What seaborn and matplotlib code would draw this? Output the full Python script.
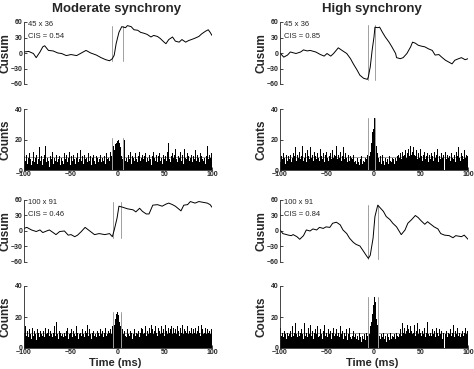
import matplotlib

matplotlib.use("Agg")
import matplotlib.pyplot as plt
import pandas as pd
import seaborn as sns

sns.set_theme(style="ticks")
plt.rcParams["font.family"] = ["Liberation Sans", "DejaVu Sans"]

# --- Cusum traces (time in ms, cusum value) ---
mod_t1 = [-100, -95, -90, -87, -83, -80, -78, -74, -69, -64, -60, -55, -50, -44, -39, -34, -29,
          -23, -18, -13, -9, -6, -4, -2, 1, 4, 8, 10, 14, 17, 21, 24, 28, 31, 35, 38, 42, 45,
          49, 51, 54, 58, 61, 65, 68, 72, 75, 81, 86, 89, 93, 96, 98, 100]
mod_c1 = [2, 3, -1, -9, 2, 12, 14, 5, 4, 0, -1, -5, -3, -5, 0, 5, 0,
          -4, -9, -13, -15, -11, -4, 18, 40, 51, 49, 53, 51, 45, 44, 40, 38, 36, 31, 34, 32, 28,
          21, 18, 26, 31, 23, 21, 26, 21, 24, 28, 32, 37, 42, 45, 40, 34]

high_t1 = [-100, -96, -92, -89, -83, -78, -75, -71, -68, -62, -57, -53, -50, -46, -43, -38, -34,
           -29, -25, -22, -18, -15, -11, -7, -6, -4, -2, 0, 1, 4, 6, 9, 12, 16, 19, 23, 24, 28,
           31, 35, 39, 41, 44, 47, 51, 54, 58, 62, 65, 69, 72, 76, 79, 83, 86, 90, 93, 97, 100]
high_c1 = [0, -8, -4, 2, -1, 2, 6, 4, 5, 2, -3, -6, -1, -6, -1, 10, 5,
           -1, -11, -21, -33, -43, -49, -51, -46, -27, 5, 31, 50, 49, 50, 40, 31, 21, 12, -1, -9, -11,
           -9, -1, 12, 21, 19, 15, 13, 12, 8, 5, -4, -3, -8, -14, -17, -21, -14, -11, -9, -13, -11]

mod_t2 = [-100, -97, -92, -87, -83, -80, -76, -73, -69, -66, -62, -57, -53, -50, -46, -43, -39,
          -35, -30, -25, -20, -14, -9, -6, -4, -1, 1, 5, 10, 16, 19, 23, 26, 30, 33, 37, 42, 47,
          51, 54, 58, 61, 67, 70, 74, 77, 82, 86, 89, 95, 98, 100]
mod_c2 = [5, 7, 2, -1, 2, -3, 0, 2, -3, -7, -1, 0, -8, -7, -11, -8, -1,
          7, 0, -7, -5, -7, -5, -11, 2, 25, 48, 46, 43, 41, 37, 44, 38, 33, 33, 50, 51, 48,
          52, 54, 51, 48, 39, 50, 51, 57, 54, 57, 56, 54, 51, 46]

high_t2 = [-100, -97, -91, -88, -86, -82, -79, -75, -72, -68, -65, -61, -58, -54, -51, -47, -44,
           -40, -36, -33, -29, -26, -22, -19, -15, -12, -8, -6, -4, -1, 1, 4, 7, 10, 13, 17, 20,
           24, 27, 29, 33, 36, 40, 44, 47, 50, 54, 57, 59, 64, 68, 71, 75, 80, 84, 87, 93, 96,
           100]
high_c2 = [2, -5, -8, -9, -7, -11, -16, -9, 2, 0, 4, 2, 7, 5, 8, 7, 15,
           17, 12, 2, -5, -14, -22, -26, -29, -37, -48, -53, -47, -14, 28, 50, 44, 38, 28, 22, 15,
           8, -1, -7, 2, 15, 22, 30, 26, 20, 13, 18, 15, 8, 4, -5, -8, -9, -13, -9, -11, -8,
           -16]

# --- Cross-correlograms: counts in 1 ms bins, -100 ms to 100 ms (20 bins per row) ---
mod_h1 = [9, 6, 10, 4, 8, 11, 7, 3, 9, 6, 12, 5, 8, 10, 4, 7, 15, 6, 9, 3,
          7, 10, 16, 5, 8, 11, 6, 2, 9, 7, 12, 4, 8, 6, 10, 5, 7, 9, 3, 8,
          6, 9, 4, 11, 7, 10, 5, 8, 12, 3, 9, 6, 10, 7, 4, 8, 11, 5, 13, 7,
          13, 6, 9, 4, 10, 7, 8, 5, 11, 6, 9, 3, 8, 10, 6, 7, 4, 9, 8, 5,
          7, 10, 5, 8, 6, 9, 4, 11, 7, 8, 6, 10, 12, 9, 14, 16, 13, 17, 18, 19,
          20, 18, 15, 9, 7, 12, 20, 6, 15, 8, 5, 10, 7, 12, 4, 9, 8, 6, 11, 7,
          5, 9, 12, 6, 8, 4, 10, 7, 9, 11, 5, 8, 6, 10, 7, 3, 9, 12, 8, 6,
          10, 7, 5, 9, 11, 6, 8, 4, 10, 7, 9, 6, 12, 18, 7, 5, 9, 11, 6, 8,
          10, 14, 7, 5, 9, 8, 12, 6, 10, 4, 14, 8, 7, 11, 9, 12, 6, 8, 10, 5,
          9, 7, 13, 6, 10, 8, 5, 11, 9, 7, 6, 10, 8, 4, 9, 16, 7, 10, 8, 11]

high_h1 = [5, 9, 7, 11, 8, 4, 10, 6, 12, 9, 7, 10, 5, 8, 11, 9, 15, 6, 10, 8,
           12, 7, 9, 16, 6, 10, 8, 11, 5, 13, 9, 7, 15, 8, 10, 6, 12, 9, 7, 11,
           8, 10, 6, 14, 9, 7, 11, 5, 10, 12, 8, 6, 9, 11, 7, 13, 8, 10, 6, 9,
           16, 7, 10, 8, 12, 6, 9, 15, 7, 11, 8, 5, 10, 6, 9, 4, 8, 7, 10, 5,
           6, 4, 8, 5, 3, 7, 9, 4, 6, 5, 8, 3, 7, 10, 6, 9, 12, 18, 25, 27,
           34, 26, 16, 11, 8, 5, 9, 4, 7, 10, 6, 3, 8, 5, 7, 4, 9, 6, 5, 8,
           7, 4, 8, 6, 9, 5, 10, 8, 11, 7, 12, 9, 10, 13, 8, 11, 14, 9, 16, 10,
           12, 8, 15, 10, 9, 13, 7, 11, 8, 14, 9, 6, 10, 12, 7, 9, 11, 5, 8, 10,
           7, 11, 9, 6, 12, 8, 10, 14, 5, 9, 7, 11, 8, 10, 6, 9, 12, 7, 10, 8,
           9, 6, 11, 8, 7, 10, 5, 12, 9, 15, 8, 10, 6, 11, 9, 7, 13, 8, 10, 9]

mod_h2 = [10, 14, 8, 11, 7, 12, 9, 6, 10, 13, 8, 11, 9, 5, 12, 10, 7, 11, 9, 8,
          11, 7, 13, 9, 10, 6, 12, 8, 11, 9, 7, 10, 14, 8, 17, 9, 6, 11, 10, 8,
          9, 12, 7, 10, 8, 11, 13, 6, 9, 10, 12, 7, 11, 9, 8, 14, 10, 6, 12, 9,
          10, 8, 12, 9, 7, 11, 10, 15, 8, 12, 9, 6, 10, 11, 8, 13, 9, 7, 11, 10,
          8, 12, 9, 11, 7, 10, 13, 8, 9, 11, 10, 7, 12, 9, 14, 11, 15, 19, 22, 23,
          21, 17, 14, 22, 12, 9, 11, 8, 10, 7, 12, 9, 8, 11, 10, 6, 9, 12, 8, 10,
          9, 11, 7, 10, 13, 8, 12, 9, 10, 14, 8, 11, 9, 13, 10, 15, 12, 9, 11, 14,
          10, 12, 8, 13, 11, 9, 14, 10, 12, 8, 15, 11, 9, 13, 10, 12, 14, 9, 11, 13,
          10, 12, 9, 14, 11, 8, 13, 10, 15, 9, 12, 11, 10, 14, 9, 17, 11, 10, 13, 9,
          12, 10, 13, 9, 11, 14, 10, 8, 15, 12, 9, 11, 10, 13, 9, 12, 10, 11, 9, 12]

high_h2 = [13, 8, 10, 7, 11, 9, 6, 10, 12, 8, 9, 11, 7, 14, 8, 10, 16, 9, 7, 11,
           8, 10, 12, 9, 6, 11, 16, 8, 10, 7, 13, 9, 15, 8, 11, 6, 10, 12, 9, 14,
           7, 10, 8, 12, 9, 6, 11, 15, 8, 10, 7, 12, 9, 11, 6, 10, 13, 8, 11, 9,
           12, 8, 10, 7, 14, 9, 11, 6, 10, 8, 12, 5, 9, 13, 7, 10, 6, 8, 11, 7,
           9, 6, 8, 5, 10, 7, 4, 8, 6, 9, 5, 7, 10, 8, 11, 9, 14, 17, 22, 28,
           33, 30, 19, 15, 12, 8, 6, 9, 5, 7, 10, 6, 8, 4, 9, 7, 5, 10, 6, 8,
           7, 9, 6, 10, 8, 11, 7, 9, 12, 8, 16, 10, 13, 9, 11, 15, 12, 10, 14, 11,
           9, 12, 10, 15, 8, 11, 16, 9, 12, 10, 8, 11, 9, 13, 7, 10, 17, 9, 11, 8,
           10, 8, 12, 9, 11, 7, 13, 10, 8, 12, 9, 11, 6, 10, 14, 8, 9, 11, 7, 10,
           9, 12, 8, 10, 15, 7, 11, 9, 13, 8, 10, 12, 7, 9, 11, 8, 10, 13, 9, 11]

# Panel annotations, window markers and baselines
pair_sizes = ["45 x 36", "45 x 36", "100 x 91", "100 x 91"]
cis_values = ["0.54", "0.85", "0.46", "0.84"]
windows = [(-6, 5), (-6, 1), (-5, 3), (-6, 4)]
cusum_spans = [(-15, 53), (-53, 55), (-13, 56), (-55, 51)]
hist_peaks = [21, 34, 23, 33]
baselines = [8.5, 8.5, 10, 9.5]

W, H = 474, 369
fig = plt.figure(figsize=(W / 100, H / 100), dpi=100)


def add_axes(x0, y_top, y_bot, x1):
    return fig.add_axes([x0 / W, 1 - y_bot / H, (x1 - x0) / W, (y_bot - y_top) / H])


def style_ticks(ax):
    ax.tick_params(axis="both", direction="in", length=2, width=0.6, pad=1,
                   labelsize=5)
    for lab in ax.get_xticklabels() + ax.get_yticklabels():
        lab.set_fontweight("bold")


def draw_cusum(ax, t, c, i, lab_x):
    lo, hi = cusum_spans[i]
    for w in windows[i]:
        ax.plot([w, w], [lo, hi], color="#a0a0a0", lw=0.7, zorder=1)
    sns.lineplot(x=t, y=c, color="black", lw=0.7, ax=ax, zorder=2)
    ax.set_xlim(-100, 100)
    ax.set_ylim(-60, 60)
    ax.set_yticks([-60, -30, 0, 30, 60])
    ax.set_xticks([])
    sns.despine(ax=ax, bottom=True)
    ax.spines["left"].set_linewidth(0.6)
    ax.set_ylabel("Cusum", fontsize=8.5, fontweight="bold")
    ax.yaxis.set_label_coords(lab_x, 0.5)
    ax.text(0.02, 0.96, pair_sizes[i], transform=ax.transAxes, fontsize=5.5,
            va="center", ha="left")
    ax.text(0.02, 0.76, "CIS = " + cis_values[i], transform=ax.transAxes,
            fontsize=5.5, va="center", ha="left")
    style_ticks(ax)


def draw_hist(ax, counts, i, lab_x):
    edges = list(range(-100, 101))
    df = pd.DataFrame({"t": [e + 0.5 for e in edges[:-1]], "n": counts})
    ax.axhline(baselines[i], color="#a0a0a0", lw=0.7, zorder=0)
    for w in windows[i]:
        ax.plot([w, w], [0, hist_peaks[i]], color="#a0a0a0", lw=0.7, zorder=3)
    sns.histplot(data=df, x="t", weights="n", bins=edges, color="black", alpha=1,
                 linewidth=0, ax=ax)
    ax.set_xlim(-100, 100)
    ax.set_ylim(0, 40)
    ax.set_yticks([0, 20, 40])
    ax.set_xticks([-100, -50, 0, 50, 100])
    sns.despine(ax=ax)
    ax.spines["left"].set_linewidth(0.6)
    ax.spines["bottom"].set_linewidth(0.6)
    ax.set_ylabel("Counts", fontsize=8.5, fontweight="bold")
    ax.yaxis.set_label_coords(lab_x, 0.5)
    ax.set_xlabel("")
    style_ticks(ax)


cols = [(24, 212, -0.064), (280, 468, -0.066)]
rows_c = [(22, 84), (200, 262)]
rows_h = [(109, 170), (286, 348)]
cusums = [[(mod_t1, mod_c1), (high_t1, high_c1)], [(mod_t2, mod_c2), (high_t2, high_c2)]]
hists = [[mod_h1, high_h1], [mod_h2, high_h2]]

for r in range(2):
    for k in range(2):
        x0, x1, lab_x = cols[k]
        i = r * 2 + k
        ax_c = add_axes(x0, rows_c[r][0], rows_c[r][1], x1)
        draw_cusum(ax_c, cusums[r][k][0], cusums[r][k][1], i, lab_x)
        ax_h = add_axes(x0, rows_h[r][0], rows_h[r][1], x1)
        draw_hist(ax_h, hists[r][k], i, lab_x)

fig.text(117 / W, 1 - 9 / H, "Moderate synchrony", ha="center", va="center",
         fontsize=9.5, fontweight="bold")
fig.text(372 / W, 1 - 9 / H, "High synchrony", ha="center", va="center",
         fontsize=9.5, fontweight="bold")
for xc in (115, 372):
    fig.text(xc / W, 1 - 366 / H, "Time (ms)", ha="center", va="baseline",
             fontsize=8, fontweight="bold")

fig.savefig("out.png", dpi=100)
plt.close(fig)
